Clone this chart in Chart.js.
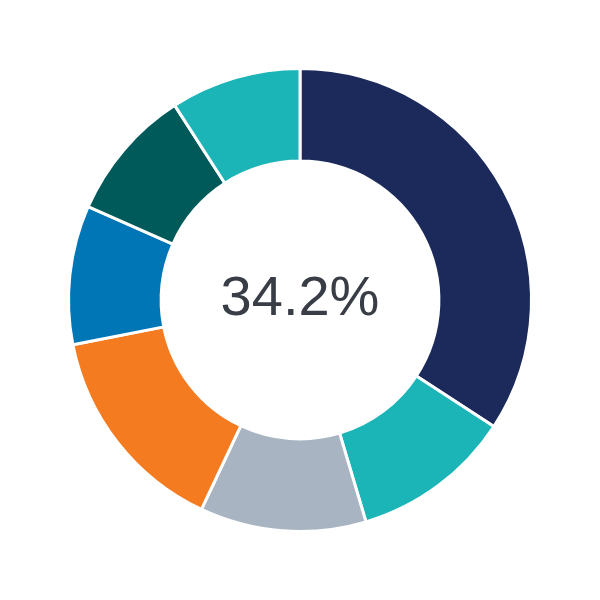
<!DOCTYPE html>
<html>
<head>
<meta charset="utf-8">
<script src="https://cdn.jsdelivr.net/npm/chart.js@4"></script>
<style>
  html, body { margin: 0; padding: 0; background: #fff; }
  #wrap { width: 600px; height: 600px; }
</style>
</head>
<body>
<div id="wrap"><canvas id="donutChart" width="600" height="600"></canvas></div>
<script>
// Slice data, clockwise from the top
const sliceLabels = ['A', 'B', 'C', 'D', 'E', 'F', 'G'];
const sliceValues = [34.2, 11.2, 11.6, 14.9, 9.7, 9.3, 9.1];
const sliceColors = ['#1b2a5a', '#1bb5b8', '#a9b4c2', '#f47b20', '#0076b6', '#005a5a', '#1bb5b8'];
const centerLabel = '34.2%';

// Text in the middle of the ring
const centerText = {
  id: 'centerText',
  afterDraw(chart) {
    const c = chart.ctx;
    const meta = chart.getDatasetMeta(0).data[0];
    c.save();
    c.font = '56px "Liberation Sans", Arial, sans-serif';
    c.fillStyle = '#393e46';
    c.textAlign = 'center';
    c.textBaseline = 'middle';
    c.fillText(centerLabel, meta.x, meta.y);
    c.restore();
  }
};

const ctx = document.getElementById('donutChart').getContext('2d');
new Chart(ctx, {
  type: 'doughnut',
  data: {
    labels: sliceLabels,
    datasets: [{
      data: sliceValues,
      backgroundColor: sliceColors,
      borderColor: '#ffffff',
      borderWidth: 3
    }]
  },
  options: {
    responsive: false,
    animation: false,
    cutout: '60%',
    layout: { padding: 67 },
    plugins: {
      legend: { display: false },
      tooltip: { enabled: false }
    }
  },
  plugins: [centerText]
});
</script>
</body>
</html>
